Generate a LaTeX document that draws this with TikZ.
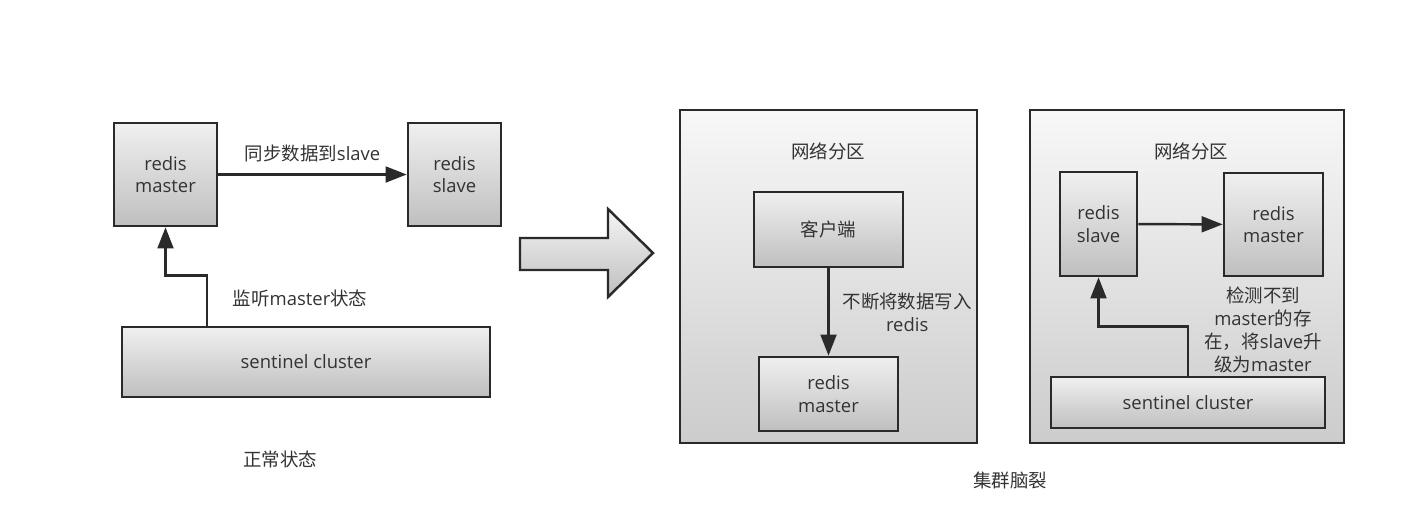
\documentclass[tikz,border=0pt]{standalone}
\usepackage{fontspec}
\setmainfont{Open Sans}
\newfontfamily\cjk{Noto Sans CJK SC}
\usetikzlibrary{arrows.meta}
\definecolor{edge}{HTML}{2A2A2A}
\definecolor{ink}{HTML}{333333}

\begin{document}
\begin{tikzpicture}[x=0.02cm, y=-0.02cm, >={Triangle[length=12pt,width=9pt]},
  font=\fontsize{10.5}{13}\selectfont, text=ink,
  box/.style={draw=edge, line width=1.5pt, top color=white!94!black,
    bottom color=black!25, align=center, inner sep=0pt},
  zone/.style={draw=edge, line width=1.5pt, top color=white!97!black,
    bottom color=black!20, inner sep=0pt},
  link/.style={->, draw=edge, line width=1.4pt}]
  \useasboundingbox (0,0) rectangle (1416,528);

  % normal state
  \node[box, minimum width=2.06cm, minimum height=2.06cm] (lm) at (165.5,174.5) {redis\\master};
  \node[box, minimum width=1.86cm, minimum height=2.06cm] (ls) at (454.5,174.5) {redis\\slave};
  \node[box, minimum width=7.36cm, minimum height=1.40cm] (lsc) at (306,362) {sentinel cluster};

  \draw[link] (lm) -- (ls) node[midway, above=3pt] {{\cjk 同步数据到}slave};
  \draw[link] ([xshift=-1.98cm]lsc.north) -- ++(0,-50) -| (lm.south);
  \node (watch) at (300,298) {{\cjk 监听}master{\cjk 状态}};
  \node (normal) at (280,459) {\cjk 正常状态};

  % big arrow
  \draw[draw=edge, line width=1.4pt, top color=white!96!black, bottom color=black!25]
    (520,238) -- (608,238) -- (608,209) -- (653,253) -- (608,297) -- (608,270) -- (520,270) -- cycle;

  % partition 1
  \node[zone, minimum width=5.94cm, minimum height=6.66cm] (p1) at (828.5,276.5) {};
  \node (p1t) at (828,151) {\cjk 网络分区};
  \node[box, minimum width=2.98cm, minimum height=1.50cm] (cl) at (828.5,229.5) {\cjk 客户端};
  \node[box, minimum width=2.78cm, minimum height=1.48cm] (m1) at (828.5,394) {redis\\master};
  \draw[link] (cl) -- (m1) node[midway, right=4pt, align=center] {{\cjk 不断将数据写入}\\redis};

  % partition 2
  \node[zone, minimum width=6.28cm, minimum height=6.66cm] (p2) at (1187,276.5) {};
  \node (p2t) at (1191,151) {\cjk 网络分区};
  \node[box, minimum width=1.54cm, minimum height=2.08cm] (rs) at (1098.5,224) {redis\\slave};
  \node[box, minimum width=1.98cm, minimum height=2.06cm] (rm) at (1273.5,224.5) {redis\\master};
  \node[box, minimum width=5.48cm, minimum height=1.02cm] (rsc) at (1188,402.5) {sentinel cluster};
  \draw[link] (rs) -- (rm);
  \draw[link] (rsc.north) -- ++(0,-49) -| (rs.south);
  \node[align=center] (detect) at (1263,330)
    {{\cjk 检测不到}\\master{\cjk 的存}\\{\cjk 在，将}slave{\cjk 升}\\{\cjk 级为}master};

  \node (split) at (1010,480) {\cjk 集群脑裂};
\end{tikzpicture}
\end{document}
